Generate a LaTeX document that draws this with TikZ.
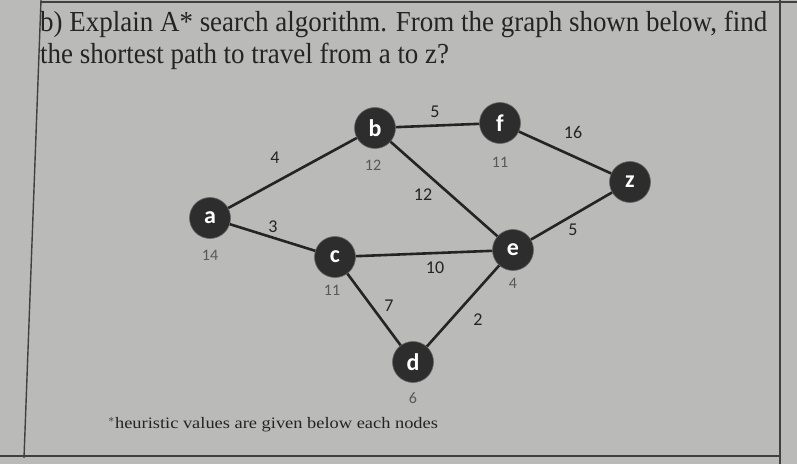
\documentclass[tikz,border=0pt]{standalone}
\usepackage{fontspec}
\setmainfont{Liberation Serif}
\newfontfamily\carl{Carlito}
\definecolor{paper}{RGB}{186,186,184}
\definecolor{ink}{RGB}{36,36,36}
\definecolor{heur}{RGB}{88,88,88}
\definecolor{nodefill}{RGB}{45,45,45}
\tikzset{
  vert/.style={circle,fill=nodefill,draw=black!60,line width=0.6pt,minimum size=41pt,inner sep=0pt,text=white,font=\carl\bfseries\fontsize{24}{24}\selectfont},
  edge/.style={draw=ink,line width=2.6pt},
  wt/.style={text=ink,font=\carl\fontsize{18}{18}\selectfont,inner sep=0pt},
  hv/.style={text=heur,font=\carl\fontsize{16}{16}\selectfont,inner sep=0pt},
  frame/.style={draw=black!75,line width=1.4pt}
}
\begin{document}
\begin{tikzpicture}[x=1pt,y=1pt]
\fill[paper] (0,0) rectangle (797,464);
\useasboundingbox (0,0) rectangle (797,464);
% frame
\draw[frame] (41,462) -- (797,462);
\draw[frame] (41,464) -- (24,6);
\draw[frame] (0,8) -- (780,8);
\draw[frame] (780,0) -- (780,464);
% title
\node[anchor=base west,inner sep=0pt,text=ink] (t1) at (40,432) {\scalebox{0.93}[1]{\fontsize{29}{29}\selectfont b) Explain A* search algorithm. From the graph shown below, find}};
\node[anchor=base west,inner sep=0pt,text=ink] (t2) at (40,400) {\scalebox{0.93}[1]{\fontsize{29}{29}\selectfont the shortest path to travel from a to z?}};
% nodes
\node[vert] (a) at (210,246) {a};
\node[vert] (b) at (375,336) {b};
\node[vert] (c) at (335,207) {c};
\node[vert] (f) at (500,341) {f};
\node[vert] (z) at (630,282) {z};
\node[vert] (e) at (513,214) {e};
\node[vert] (d) at (413,102) {d};
% edges
\draw[edge] (a) -- (b);
\draw[edge] (a) -- (c);
\draw[edge] (b) -- (f);
\draw[edge] (b) -- (e);
\draw[edge] (c) -- (e);
\draw[edge] (c) -- (d);
\draw[edge] (d) -- (e);
\draw[edge] (f) -- (z);
\draw[edge] (e) -- (z);
% weights
\node[wt] (wab) at (275,306) {4};
\node[wt] (wac) at (273,237) {3};
\node[wt] (wbf) at (435,352) {5};
\node[wt] (wbe) at (423,269) {12};
\node[wt] (wce) at (435,196) {10};
\node[wt] (wcd) at (389,158) {7};
\node[wt] (wde) at (478,144) {2};
\node[wt] (wfz) at (573,332) {16};
\node[wt] (wez) at (573,234) {5};
% heuristics
\node[hv] (ha) at (210,209) {14};
\node[hv] (hb) at (373,299) {12};
\node[hv] (hc) at (332,174) {11};
\node[hv] (hf) at (500,302) {11};
\node[hv] (he) at (513,181) {4};
\node[hv] (hd) at (413,66) {6};
% footnote
\node[anchor=west,inner sep=0pt,text=ink] (fn) at (108,39) {\scalebox{1.15}[1]{\fontsize{16}{16}\selectfont $^{*}$heuristic values are given below each nodes}};
\end{tikzpicture}
\end{document}
